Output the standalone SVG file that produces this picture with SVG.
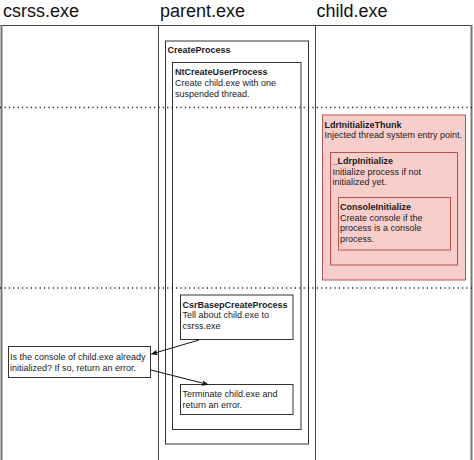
<svg xmlns="http://www.w3.org/2000/svg" width="474" height="460" viewBox="0 0 474 460">
<style>
.hdr{font-family:"Liberation Sans",Arial,sans-serif;font-size:18px;fill:#111}
.t{font-family:"Liberation Sans",Arial,sans-serif;font-size:9px;fill:#1a1a1a}
.b{font-weight:bold}
.box{fill:none;stroke:#333;stroke-width:1}
.pink{fill:#f8cecc;stroke:#b85450;stroke-width:1}
.div{stroke:#444;stroke-width:1;fill:none}
.dot{stroke:#222;stroke-width:1.5;stroke-dasharray:1.2 3.2;fill:none}
.edge{stroke:#111;stroke-width:1;fill:none}
</style>
<defs>
<marker id="arr" viewBox="0 0 10 10" refX="9" refY="5" markerWidth="7" markerHeight="7" orient="auto" markerUnits="userSpaceOnUse">
<path d="M0,1 L10,5 L0,9 L2.5,5 Z" fill="#111"/>
</marker>
</defs>
<rect width="474" height="460" fill="#fff"/>
<g id="frame">
<line class="div" x1="0" y1="25.5" x2="472" y2="25.5" stroke="#666"/>
<line x1="1.5" y1="25" x2="1.5" y2="460" stroke="#777" stroke-width="2"/>
<line x1="471.5" y1="25" x2="471.5" y2="460" stroke="#777" stroke-width="2"/>
<line class="div" x1="158.5" y1="25.5" x2="158.5" y2="460"/>
<line class="div" x1="315.5" y1="25.5" x2="315.5" y2="460"/>
<text class="hdr" x="3" y="17">csrss.exe</text>
<text class="hdr" x="160" y="17">parent.exe</text>
<text class="hdr" x="316.5" y="17">child.exe</text>
</g>
<g id="createprocess">
<rect class="box" x="165.5" y="41" width="143" height="403"/>
<text class="t b" x="167.5" y="53">CreateProcess</text>
</g>
<g id="ntcreateuserprocess">
<rect class="box" x="172.5" y="62.5" width="128.5" height="367"/>
<text class="t"><tspan class="b" x="175" y="75">NtCreateUserProcess</tspan><tspan x="175" y="86">Create child.exe with one</tspan><tspan x="175" y="96.5">suspended thread.</tspan></text>
</g>
<g id="ldrinitializethunk">
<rect class="pink" x="322.5" y="115" width="143" height="165"/>
<text class="t"><tspan class="b" x="324.5" y="127.5">LdrInitializeThunk</tspan><tspan x="324.5" y="137.5">Injected thread system entry point.</tspan></text>
</g>
<g id="ldrpinitialize">
<rect class="pink" x="330.5" y="152.5" width="127" height="112.5"/>
<text class="t"><tspan class="b" x="332.5" y="164">_LdrpInitialize</tspan><tspan x="332.5" y="174.5">Initialize process if not</tspan><tspan x="332.5" y="185">initialized yet.</tspan></text>
</g>
<g id="consoleinitialize">
<rect class="pink" x="338.5" y="197.5" width="112" height="52.5"/>
<text class="t"><tspan class="b" x="340" y="210">ConsoleInitialize</tspan><tspan x="340" y="220.5">Create console if the</tspan><tspan x="340" y="231">process is a console</tspan><tspan x="340" y="241.5">process.</tspan></text>
</g>
<g id="csrbasepcreateprocess">
<rect class="box" x="180.5" y="295" width="112.5" height="44.5"/>
<text class="t"><tspan class="b" x="182.5" y="307.5">CsrBasepCreateProcess</tspan><tspan x="182.5" y="318">Tell about child.exe to</tspan><tspan x="182.5" y="328.5">csrss.exe</tspan></text>
</g>
<g id="consolecheck">
<rect class="box" x="8.5" y="346.5" width="142" height="31"/>
<text class="t"><tspan x="10" y="360">Is the console of child.exe already</tspan><tspan x="10" y="370.5">initialized? If so, return an error.</tspan></text>
</g>
<g id="terminate">
<rect class="box" x="180.5" y="384.5" width="112.5" height="30"/>
<text class="t"><tspan x="182.5" y="397">Terminate child.exe and</tspan><tspan x="182.5" y="407.5">return an error.</tspan></text>
</g>
<g id="separators">
<line class="dot" x1="0" y1="107.5" x2="472" y2="107.5"/>
<line class="dot" x1="0" y1="288" x2="472" y2="288"/>
</g>
<g id="connectors">
<line class="edge" x1="199" y1="340" x2="151.5" y2="354" marker-end="url(#arr)"/>
<line class="edge" x1="151" y1="370" x2="208" y2="384.5" marker-end="url(#arr)"/>
</g>
</svg>
